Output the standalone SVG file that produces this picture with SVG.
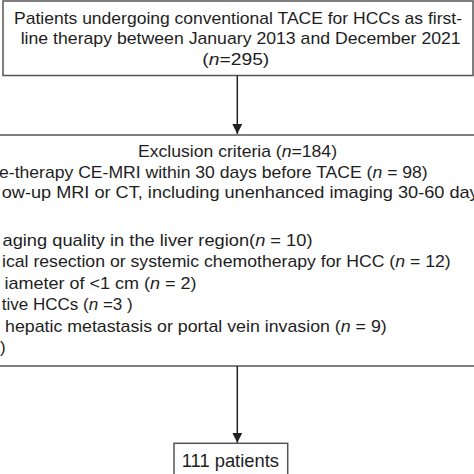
<svg xmlns="http://www.w3.org/2000/svg" width="474" height="474" viewBox="0 0 474 474">
  <defs>
    <marker id="arr" viewBox="0 0 10 10" refX="10" refY="5" markerWidth="10" markerHeight="10" markerUnits="userSpaceOnUse" orient="auto">
      <path d="M0,0 L10,5 L0,10 Z" fill="#222"/>
    </marker>
    <style>
      .box { fill: #fff; stroke: #555; stroke-width: 1.5; }
      .line { fill: none; stroke: #555; stroke-width: 1.5; }
      .conn { fill: none; stroke: #222; stroke-width: 1.5; }
      text { font-family: "Liberation Sans", Arial, sans-serif; font-size: 17px; fill: #1e1e1e; }
      .big { font-size: 19px; }
      .it { font-style: italic; }
    </style>
  </defs>
  <rect width="474" height="474" fill="#fff"/>

  <g id="top">
    <rect class="box" x="3" y="1" width="470" height="74.5"/>
    <text x="14" y="23.5" textLength="448" lengthAdjust="spacingAndGlyphs">Patients undergoing conventional TACE for HCCs as first-</text>
    <text x="20.7" y="44.3" textLength="440" lengthAdjust="spacingAndGlyphs">line therapy between January 2013 and December 2021</text>
    <text x="202.3" y="64.5" textLength="67" lengthAdjust="spacingAndGlyphs">(<tspan class="it">n</tspan>=295)</text>
  </g>

  <g id="exclusion">
    <line class="line" x1="-5" y1="135" x2="480" y2="135"/>
    <line class="line" x1="-5" y1="366" x2="480" y2="366"/>
    <text x="138" y="156.5" textLength="199" lengthAdjust="spacingAndGlyphs">Exclusion criteria (<tspan class="it">n</tspan>=184)</text>
    <text x="-1" y="177.7" textLength="428.7" lengthAdjust="spacingAndGlyphs">e-therapy CE-MRI within 30 days before TACE (<tspan class="it">n</tspan> = 98)</text>
    <text x="1.7" y="198.3" textLength="477" lengthAdjust="spacingAndGlyphs">ow-up MRI or CT, including unenhanced imaging 30-60 day</text>
    <text x="2.5" y="245.5" textLength="310" lengthAdjust="spacingAndGlyphs">aging quality in the liver region(<tspan class="it">n</tspan> = 10)</text>
    <text x="2" y="267" textLength="448.7" lengthAdjust="spacingAndGlyphs">ical resection or systemic chemotherapy for HCC (<tspan class="it">n</tspan> = 12)</text>
    <text x="4.5" y="288.5" textLength="192" lengthAdjust="spacingAndGlyphs">iameter of &lt;1 cm (<tspan class="it">n</tspan> = 2)</text>
    <text x="1.7" y="310" textLength="131" lengthAdjust="spacingAndGlyphs">tive HCCs (<tspan class="it">n</tspan> =3 )</text>
    <text x="5" y="331.5" textLength="381.7" lengthAdjust="spacingAndGlyphs">hepatic metastasis or portal vein invasion (<tspan class="it">n</tspan> = 9)</text>
    <text x="0" y="353">)</text>
  </g>

  <g id="result">
    <rect class="box" x="174" y="443.3" width="113.7" height="40"/>
    <text x="181.7" y="466.7" class="big" textLength="97.3" lengthAdjust="spacingAndGlyphs">111 patients</text>
  </g>

  <g id="connectors">
    <line class="conn" x1="237.3" y1="75.5" x2="237.3" y2="134" marker-end="url(#arr)"/>
    <line class="conn" x1="237.3" y1="366" x2="237.3" y2="442.8" marker-end="url(#arr)"/>
  </g>
</svg>
